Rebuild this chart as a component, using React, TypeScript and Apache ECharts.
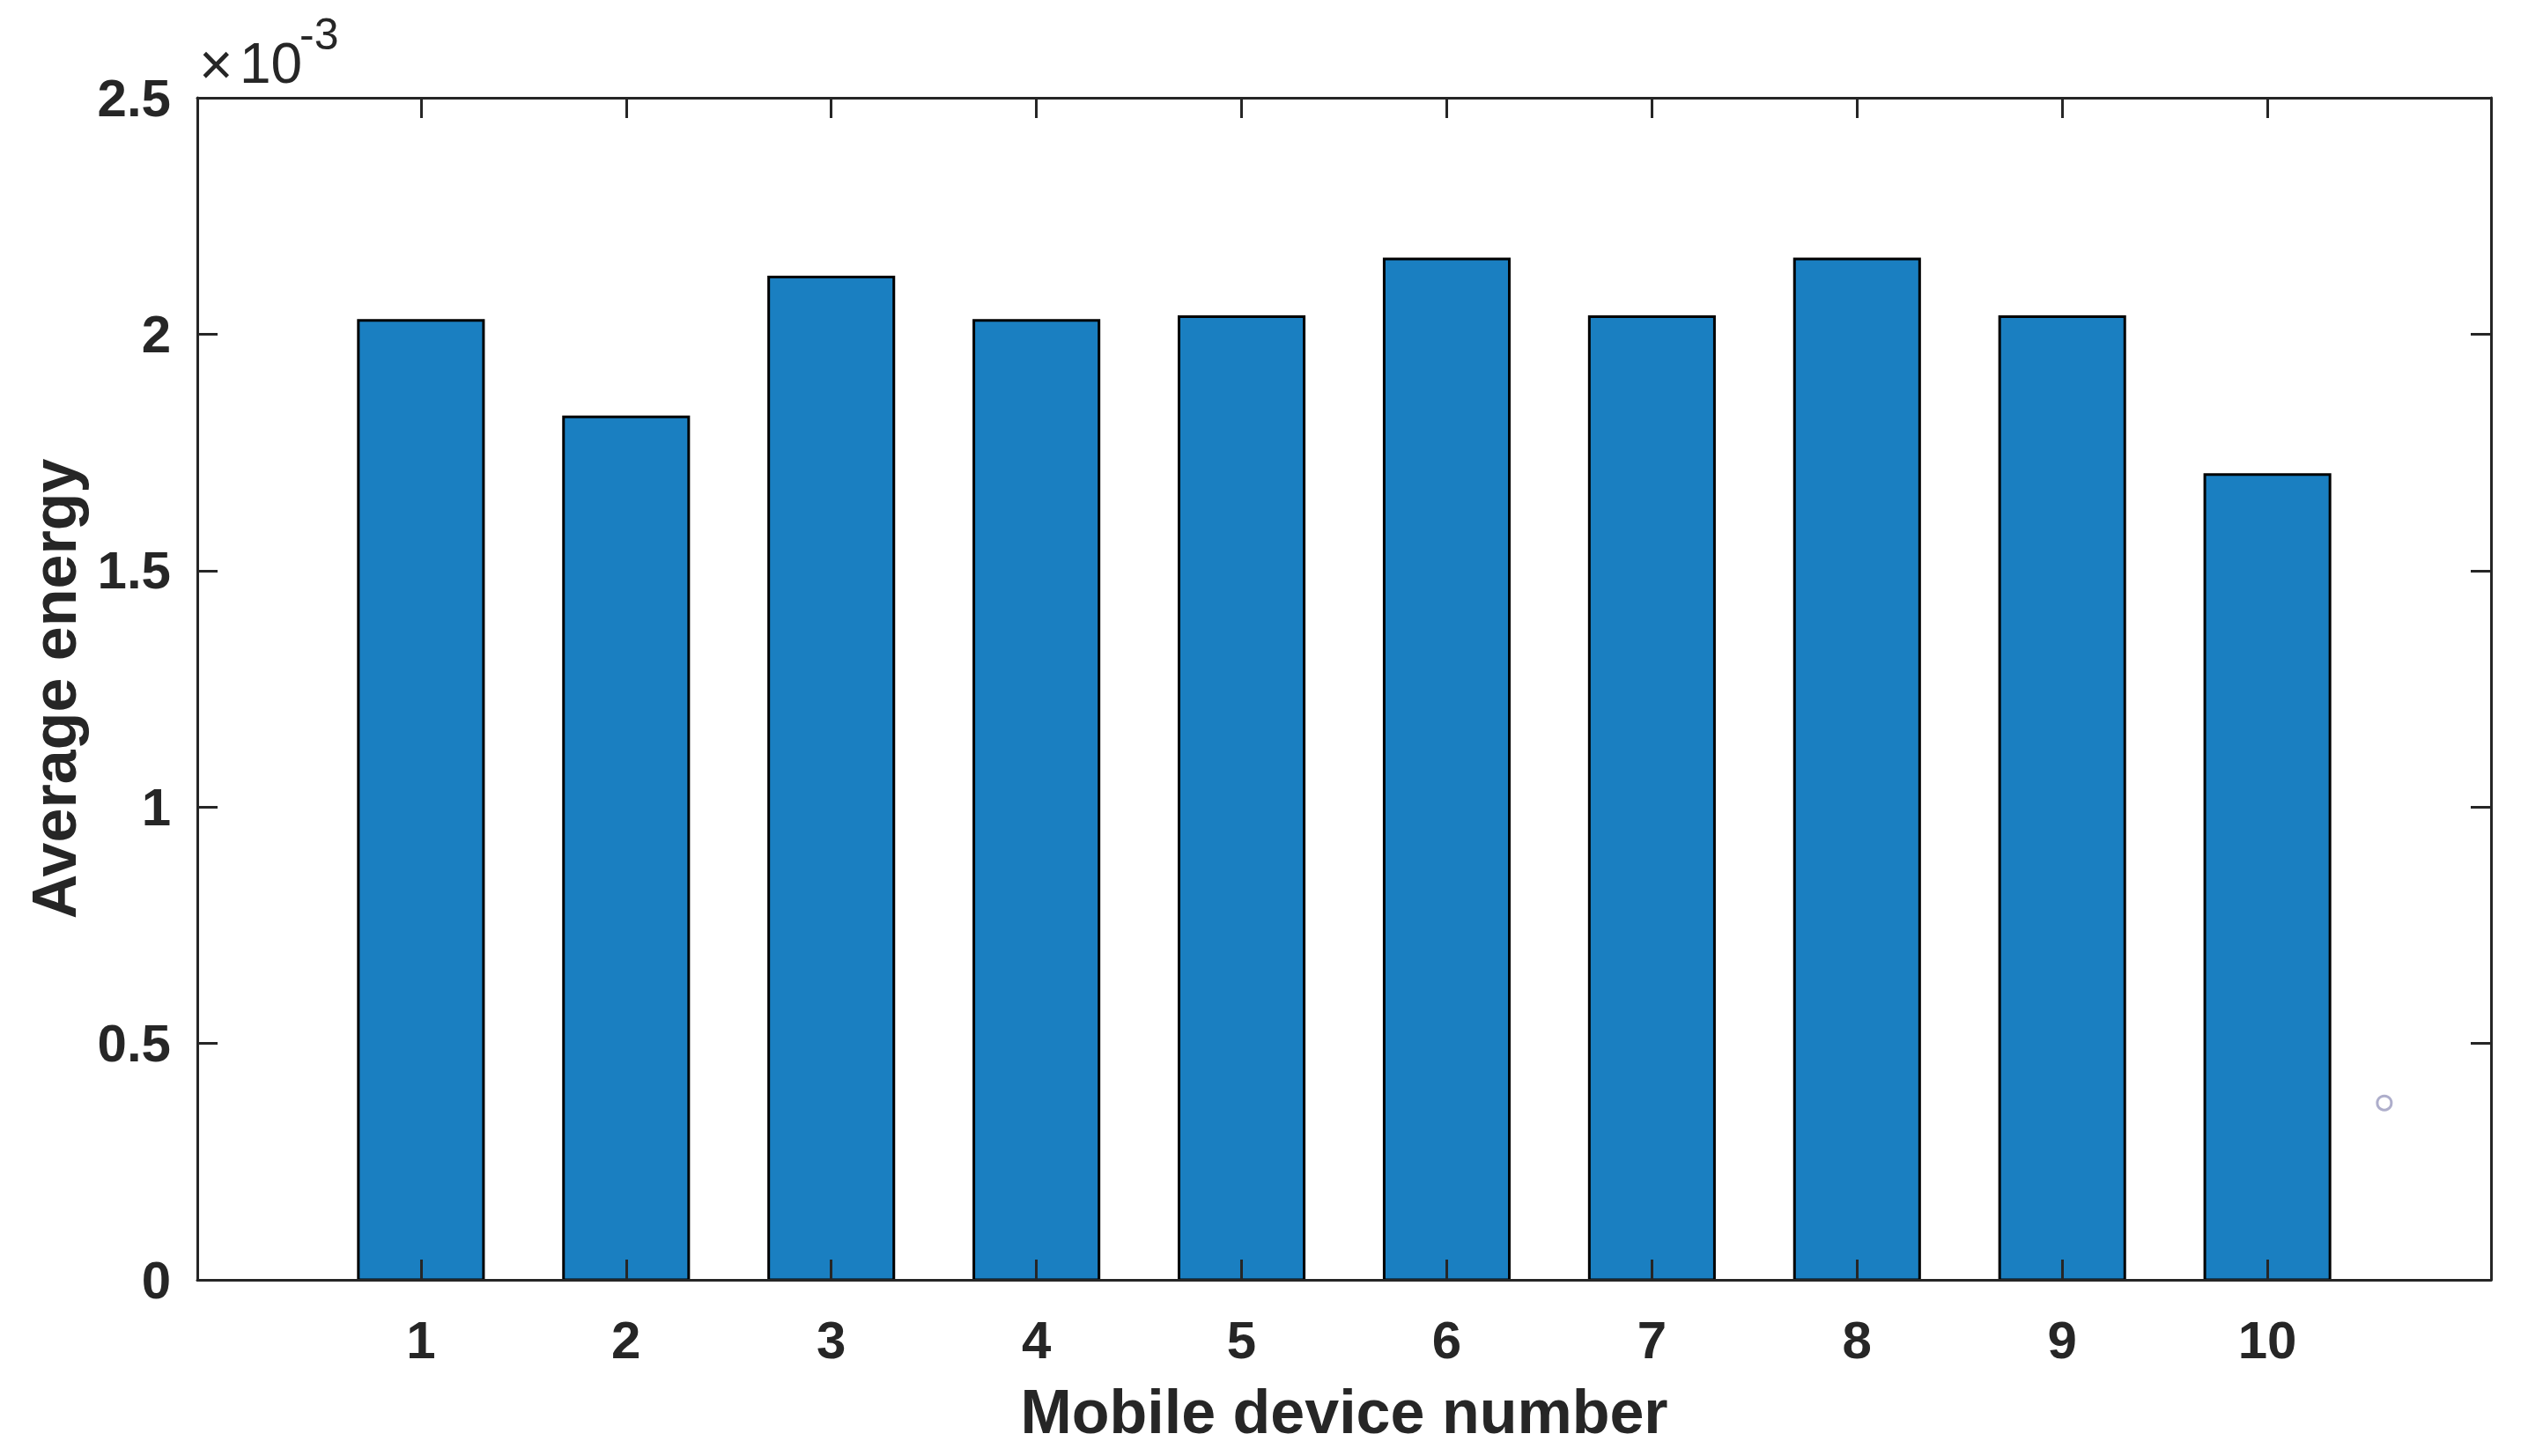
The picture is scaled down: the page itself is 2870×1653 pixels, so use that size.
import React, { useEffect, useRef } from "react";
import * as echarts from "echarts";

// Data (values in units of 1e-3)
const deviceNumbers = [1, 2, 3, 4, 5, 6, 7, 8, 9, 10];
const averageEnergy = [2.029, 1.825, 2.121, 2.029, 2.037, 2.159, 2.037, 2.159, 2.037, 1.703];
const yTicks = [0, 0.5, 1, 1.5, 2, 2.5];
const strayMarker = [[10.57, 0.374]];

const FONT = "'Liberation Sans', Arial, Helvetica, sans-serif";
const AXIS_COLOR = "#262626";
const BAR_COLOR = "#1a7fc1";
const BAR_W = 0.61;

export default function App() {
  const ref = useRef<HTMLDivElement>(null);

  useEffect(() => {
    document.body.style.margin = "0";
    if (!ref.current) return;
    const chart = echarts.init(ref.current, undefined, { renderer: "svg" });

    const commonAxisLine = { show: true, lineStyle: { color: AXIS_COLOR, width: 3 } };
    const commonTick = { show: true, inside: true, length: 23, lineStyle: { color: AXIS_COLOR, width: 3 } };

    const option: any = {
      animation: false,
      backgroundColor: "#ffffff",
      grid: { left: 224, right: 42, top: 111, bottom: 200, containLabel: false },
      xAxis: [
        {
          type: "value",
          position: "bottom",
          min: -0.09,
          max: 11.09,
          z: 10,
          axisLine: { ...commonAxisLine, onZero: false },
          axisTick: { ...commonTick, customValues: deviceNumbers },
          axisLabel: {
            customValues: deviceNumbers,
            fontSize: 60,
            fontWeight: "bold",
            fontFamily: FONT,
            color: AXIS_COLOR,
            margin: 38,
          },
          splitLine: { show: false },
          name: "Mobile device number",
          nameLocation: "middle",
          nameGap: 115,
          nameTextStyle: { fontSize: 70, fontWeight: "bold", fontFamily: FONT, color: AXIS_COLOR },
        },
        {
          type: "value",
          position: "top",
          min: -0.09,
          max: 11.09,
          z: 10,
          axisLine: { ...commonAxisLine, onZero: false },
          axisTick: { ...commonTick, customValues: deviceNumbers },
          axisLabel: { show: false },
          splitLine: { show: false },
        },
      ],
      yAxis: [
        {
          type: "value",
          position: "left",
          min: yTicks[0],
          max: yTicks[yTicks.length - 1],
          interval: 0.5,
          z: 10,
          axisLine: { ...commonAxisLine, onZero: false },
          axisTick: commonTick,
          axisLabel: {
            fontSize: 60,
            fontWeight: "bold",
            fontFamily: FONT,
            color: AXIS_COLOR,
            margin: 30,
            formatter: (v: number) => String(Number(v.toFixed(2))),
          },
          splitLine: { show: false },
          name: "Average energy",
          nameLocation: "middle",
          nameGap: 127,
          nameTextStyle: { fontSize: 70, fontWeight: "bold", fontFamily: FONT, color: AXIS_COLOR },
        },
        {
          type: "value",
          position: "right",
          min: yTicks[0],
          max: yTicks[yTicks.length - 1],
          interval: 0.5,
          z: 10,
          axisLine: { ...commonAxisLine, onZero: false },
          axisTick: commonTick,
          axisLabel: { show: false },
          splitLine: { show: false },
        },
      ],
      graphic: [
        {
          type: "text",
          left: 226,
          top: 40,
          style: { text: "×", fontSize: 66, fontFamily: FONT, fill: AXIS_COLOR },
        },
        {
          type: "text",
          left: 272,
          top: 40,
          style: { text: "10", fontSize: 64, fontFamily: FONT, fill: AXIS_COLOR },
        },
        {
          type: "text",
          left: 340,
          top: 14,
          style: { text: "-3", fontSize: 50, fontFamily: FONT, fill: AXIS_COLOR },
        },
      ],
      series: [
        {
          type: "custom",
          xAxisIndex: 0,
          yAxisIndex: 0,
          z: 2,
          data: deviceNumbers.map((d, i) => [d, averageEnergy[i]]),
          renderItem: (params: any, api: any) => {
            const x = api.value(0);
            const v = api.value(1);
            const p0 = api.coord([x - BAR_W / 2, v]);
            const p1 = api.coord([x + BAR_W / 2, 0]);
            return {
              type: "rect",
              shape: { x: p0[0], y: p0[1], width: p1[0] - p0[0], height: p1[1] - p0[1] },
              style: { fill: BAR_COLOR, stroke: "#000000", lineWidth: 3 },
            };
          },
        },
        {
          type: "scatter",
          xAxisIndex: 0,
          yAxisIndex: 0,
          data: strayMarker,
          symbol: "circle",
          symbolSize: 16,
          itemStyle: { color: "rgba(255,255,255,0)", borderColor: "#aeaecb", borderWidth: 3, opacity: 1 },
          z: 5,
        },
      ],
    };

    chart.setOption(option);
    return () => chart.dispose();
  }, []);

  return <div ref={ref} style={{ width: 2870, height: 1653 }} />;
}
